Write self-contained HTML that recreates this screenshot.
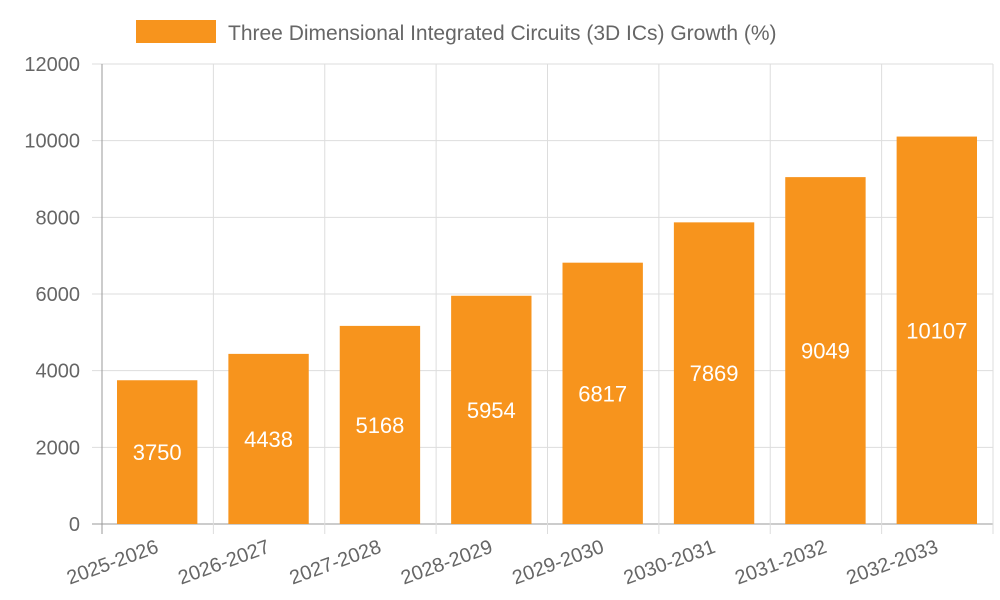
<!DOCTYPE html>
<html><head><meta charset="utf-8"><style>
body{margin:0;background:#fff;}
svg{display:block;font-family:"Liberation Sans",Arial,sans-serif;}
</style></head><body>
<svg id="chart" width="1000" height="600" xmlns="http://www.w3.org/2000/svg">
<g id="legend">
<rect x="136" y="20" width="80" height="23" fill="#f7941d"/>
<text x="228" y="40" font-size="21" fill="#666">Three Dimensional Integrated Circuits (3D ICs) Growth (%)</text>
</g>
<g id="grid"></g><g id="bars"></g><g id="axes"></g>
</svg>
<script>
const categories=["2025-2026","2026-2027","2027-2028","2028-2029","2029-2030","2030-2031","2031-2032","2032-2033"];
const values=[3750,4438,5168,5954,6817,7869,9049,10107];
const yTicks=[0,2000,4000,6000,8000,10000,12000];
const NS="http://www.w3.org/2000/svg";
const X0=102,X1=993,Y0=524,Y1=64,YMAX=12000;
const step=(X1-X0)/categories.length;
const xs=i=>X0+i*step;
const ys=v=>Y0-(v/YMAX)*(Y0-Y1);
function mk(tag,attrs,parent,text){const e=document.createElementNS(NS,tag);for(const k in attrs)e.setAttribute(k,attrs[k]);if(text!==undefined)e.textContent=text;parent.appendChild(e);return e;}
const grid=document.getElementById('grid'),bars=document.getElementById('bars'),axes=document.getElementById('axes');
yTicks.forEach(t=>{const y=ys(t);
 const l=mk('line',{x1:X0-10,x2:X1,y1:y,y2:y,stroke:t===0?'#999':'#ddd','stroke-width':1},grid);
 
 
 const tx=mk('text',{x:X0-22,y:y+7,'text-anchor':'end','font-size':20,fill:'#666'},axes,String(t));
 
 
});
for(let i=1;i<=categories.length;i++){const x=xs(i);
 const l=mk('line',{x1:x,x2:x,y1:Y1,y2:Y0+10,stroke:'#ddd','stroke-width':1},grid);
 
 
}
const ax=mk('line',{x1:X0,x2:X0,y1:Y1,y2:Y0+10,stroke:'#999','stroke-width':1},axes);


categories.forEach((c,i)=>{
 const bx=xs(i)+15,bw=step-31,y=ys(values[i]);
 const r=mk('rect',{x:bx,y:y,width:bw,height:Y0-y,fill:'#f7941d'},bars);
 
 
 const v=mk('text',{x:bx+bw/2,y:(y+Y0)/2+8,'text-anchor':'middle','font-size':22,fill:'#fff'},bars,String(values[i]));
 
 
 const cx=xs(i)+step/2+2;
 const t=mk('text',{x:cx,y:Y0+28,'text-anchor':'end','font-size':20,fill:'#666',transform:`rotate(-20 ${cx} ${Y0+28})`},axes,c);
 
 
});
</script>
</body></html>
